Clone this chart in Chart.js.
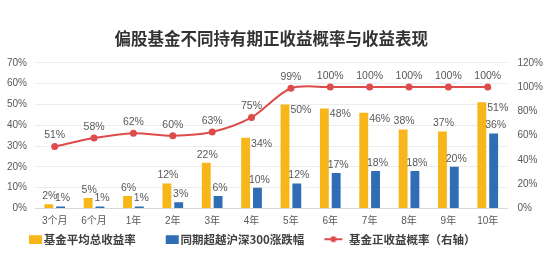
<!DOCTYPE html>
<html>
<head>
<meta charset="utf-8">
<script src="https://cdn.jsdelivr.net/npm/chart.js@4"></script>
<style>
  body { margin: 0; background: #fff; }
  #myChart { display: block; }
</style>
</head>
<body>
<canvas id="myChart" width="554" height="254"></canvas>
<script>
// data
var categories = ['3个月', '6个月', '1年', '2年', '3年', '4年', '5年', '6年', '7年', '8年', '9年', '10年'];
var avgReturn = [2, 5, 6, 12, 22, 34, 50, 48, 46, 38, 37, 51];
var excessReturn = [1, 1, 1, 3, 6, 10, 12, 17, 18, 18, 20, 36];
var positiveProb = [51, 58, 62, 60, 63, 75, 99, 100, 100, 100, 100, 100];
var leftMax = 70, leftStep = 10;
var rightMax = 120, rightStep = 20;

var yellow = '#F7B619';
var blue = '#2F6DB5';
var red = '#DD4B4B';
var textGray = '#595959';
var tickFont = "'Liberation Sans', 'Noto Sans CJK SC', sans-serif";

// legend markers, drawn at the right end of a wide image so the text sits close
var markW = 44;
function legendMark(kind, color) {
  var c = document.createElement('canvas');
  c.width = markW; c.height = 10;
  var g = c.getContext('2d');
  if (kind === 'rect') {
    g.fillStyle = color;
    g.fillRect(markW - 15, 1, 13, 9);
  } else {
    g.strokeStyle = color; g.lineWidth = 2;
    g.beginPath(); g.moveTo(markW - 25, 5); g.lineTo(markW - 7, 5); g.stroke();
    g.fillStyle = color;
    g.beginPath(); g.arc(markW - 16, 5, 3, 0, Math.PI * 2); g.fill();
  }
  return c;
}
var legendMarks = [legendMark('rect', yellow), legendMark('rect', blue), legendMark('line', red)];

// yellow labels that sit beside the bar instead of above it
var sideLabel = [false, false, false, false, false, true, true, true, true, false, false, true];

var valueLabels = {
  id: 'valueLabels',
  afterDatasetsDraw: function (chart) {
    var ctx = chart.ctx;
    ctx.save();
    ctx.font = '10.5px ' + tickFont;
    ctx.fillStyle = textGray;
    ctx.textBaseline = 'middle';
    chart.data.datasets.forEach(function (ds, di) {
      var meta = chart.getDatasetMeta(di);
      meta.data.forEach(function (el, i) {
        var txt = ds.data[i] + '%';
        if (ds.type === 'line') {
          ctx.textAlign = 'center';
          ctx.fillText(txt, el.x, el.y - 11);
        } else if (di === 0 && sideLabel[i]) {
          ctx.textAlign = 'left';
          ctx.fillText(txt, el.x + el.width / 2 + 1, el.y + 6);
        } else {
          ctx.textAlign = 'center';
          ctx.fillText(txt, el.x + (di === 0 ? 1 : 2), el.y - 8);
        }
      });
    });
    ctx.restore();
  }
};

var chart = new Chart(document.getElementById('myChart'), {
  type: 'bar',
  data: {
    labels: categories,
    datasets: [{
      label: '基金平均总收益率',
      data: avgReturn,
      backgroundColor: yellow,
      yAxisID: 'y',
      categoryPercentage: 0.6,
      barPercentage: 0.75
    }, {
      label: '同期超越沪深300涨跌幅',
      data: excessReturn,
      backgroundColor: blue,
      yAxisID: 'y',
      categoryPercentage: 0.6,
      barPercentage: 0.75
    }, {
      type: 'line',
      label: '基金正收益概率（右轴）',
      data: positiveProb,
      yAxisID: 'y1',
      borderColor: red,
      backgroundColor: red,
      borderWidth: 2,
      pointRadius: 3.5,
      pointBackgroundColor: red,
      pointBorderWidth: 0,
      tension: 0.3,
      order: -1
    }]
  },
  options: {
    responsive: false,
    animation: false,
    layout: { padding: { left: -1, right: 1, top: 0, bottom: -1 } },
    plugins: {
      title: {
        display: true,
        fullSize: false,
        text: '偏股基金不同持有期正收益概率与收益表现',
        color: '#333333',
        font: { family: "'Noto Sans CJK SC', sans-serif", size: 16.5, weight: 'bold' },
        padding: { top: 29, bottom: 14 }
      },
      legend: {
        position: 'bottom',
        align: 'start',
        labels: {
          usePointStyle: true,
          pointStyleWidth: markW - 12,
          boxHeight: 10,
          padding: 7,
          color: '#404040',
          font: { family: "'Noto Sans CJK SC', sans-serif", size: 11.5, weight: 'bold' },
          generateLabels: function (chart) {
            var items = Chart.defaults.plugins.legend.labels.generateLabels(chart);
            items.forEach(function (it) { it.pointStyle = legendMarks[it.datasetIndex]; });
            return items.sort(function (a, b) { return a.datasetIndex - b.datasetIndex; });
          }
        }
      },
      tooltip: { enabled: false }
    },
    scales: {
      x: {
        grid: { display: false },
        border: { color: '#d9d9d9' },
        ticks: { color: textGray, font: { family: tickFont, size: 10 }, padding: -1 }
      },
      y: {
        position: 'left',
        min: 0, max: leftMax,
        grid: { color: '#ececec', drawTicks: false },
        border: { display: false },
        ticks: {
          stepSize: leftStep, padding: 8, color: textGray,
          font: { family: tickFont, size: 10 },
          callback: function (v) { return v + '%'; }
        }
      },
      y1: {
        position: 'right',
        min: 0, max: rightMax,
        grid: { display: false, drawTicks: false },
        border: { display: false },
        ticks: {
          stepSize: rightStep, padding: 10, color: textGray,
          font: { family: tickFont, size: 10 },
          callback: function (v) { return v + '%'; }
        }
      }
    }
  },
  plugins: [valueLabels]
});
</script>
</body>
</html>
